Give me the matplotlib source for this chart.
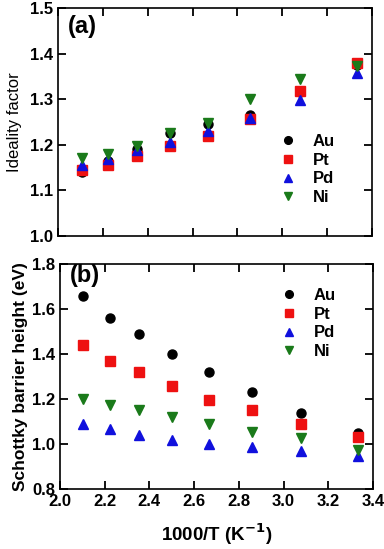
import matplotlib.pyplot as plt
from matplotlib.ticker import MultipleLocator

plt.rcParams['font.family'] = ['Liberation Sans', 'DejaVu Sans']
plt.rcParams['font.weight'] = 'bold'
plt.rcParams['axes.labelweight'] = 'bold'

inv_t = [2.105, 2.222, 2.353, 2.5, 2.667, 2.857, 3.077, 3.333]
metals = ["Au", "Pt", "Pd", "Ni"]

ideality_au = [1.14, 1.165, 1.19, 1.225, 1.245, 1.265, 1.315, 1.375]
ideality_pt = [1.145, 1.155, 1.175, 1.197, 1.22, 1.257, 1.318, 1.38]
ideality_pd = [1.155, 1.168, 1.188, 1.207, 1.23, 1.258, 1.298, 1.358]
ideality_ni = [1.17, 1.18, 1.198, 1.225, 1.247, 1.30, 1.345, 1.372]

sbh_au = [1.66, 1.56, 1.49, 1.40, 1.32, 1.23, 1.14, 1.05]
sbh_pt = [1.44, 1.37, 1.32, 1.26, 1.195, 1.15, 1.09, 1.03]
sbh_pd = [1.09, 1.065, 1.04, 1.02, 1.0, 0.985, 0.967, 0.945]
sbh_ni = [1.20, 1.175, 1.15, 1.12, 1.09, 1.055, 1.025, 0.975]

styles = [("o", "black"), ("s", "#ee1111"), ("^", "#1010dd"), ("v", "#1a7a1a")]

fig = plt.figure(figsize=(3.84, 5.49), dpi=100)
ax1 = fig.add_axes([58 / 384, 1 - 236 / 549, 314 / 384, 228 / 549])
ax2 = fig.add_axes([60 / 384, 1 - 489 / 549, 313 / 384, 225 / 549])


def draw(ax, series, ylim, loc):
    for (m, c), name, vals in zip(styles, metals, series):
        ax.plot(inv_t, vals, linestyle="none", marker=m, color=c, ms=6.5,
                label=name)
    ax.set_xlim(2.0, 3.4)
    ax.set_ylim(*ylim)
    ax.xaxis.set_major_locator(MultipleLocator(0.2))
    ax.tick_params(direction="in", top=True, right=True, length=6, width=1.3,
                   labelsize=12)
    for s in ax.spines.values():
        s.set_linewidth(1.2)
    ax.legend(loc=loc, frameon=False, fontsize=12, handletextpad=1.0,
              labelspacing=0.22, handlelength=1.0, markerscale=0.85)


draw(ax1, [ideality_au, ideality_pt, ideality_pd, ideality_ni], (1.0, 1.5),
     "lower right")
ax1.get_legend().set_bbox_to_anchor((0.93, 0.07))
ax1.yaxis.set_major_locator(MultipleLocator(0.1))
ax1.tick_params(labelbottom=False)
ax1.set_ylabel("Ideality factor", fontsize=12, fontweight="normal", labelpad=6)
ax1.text(0.03, 0.97, "(a)", transform=ax1.transAxes, fontsize=17,
         va="top", ha="left")

draw(ax2, [sbh_au, sbh_pt, sbh_pd, sbh_ni], (0.8, 1.8), "upper right")
ax2.get_legend().set_bbox_to_anchor((0.93, 0.96))
ax2.yaxis.set_major_locator(MultipleLocator(0.2))
ax2.set_ylabel("Schottky barrier height (eV)", fontsize=12.5, labelpad=3)
ax2.set_xlabel("1000/T (K$^{\\mathbf{-1}}$)", fontsize=13.5, labelpad=9)
ax2.text(0.03, 1.0, "(b)", transform=ax2.transAxes, fontsize=17,
         va="top", ha="left")

fig.savefig("out.png", dpi=100)
